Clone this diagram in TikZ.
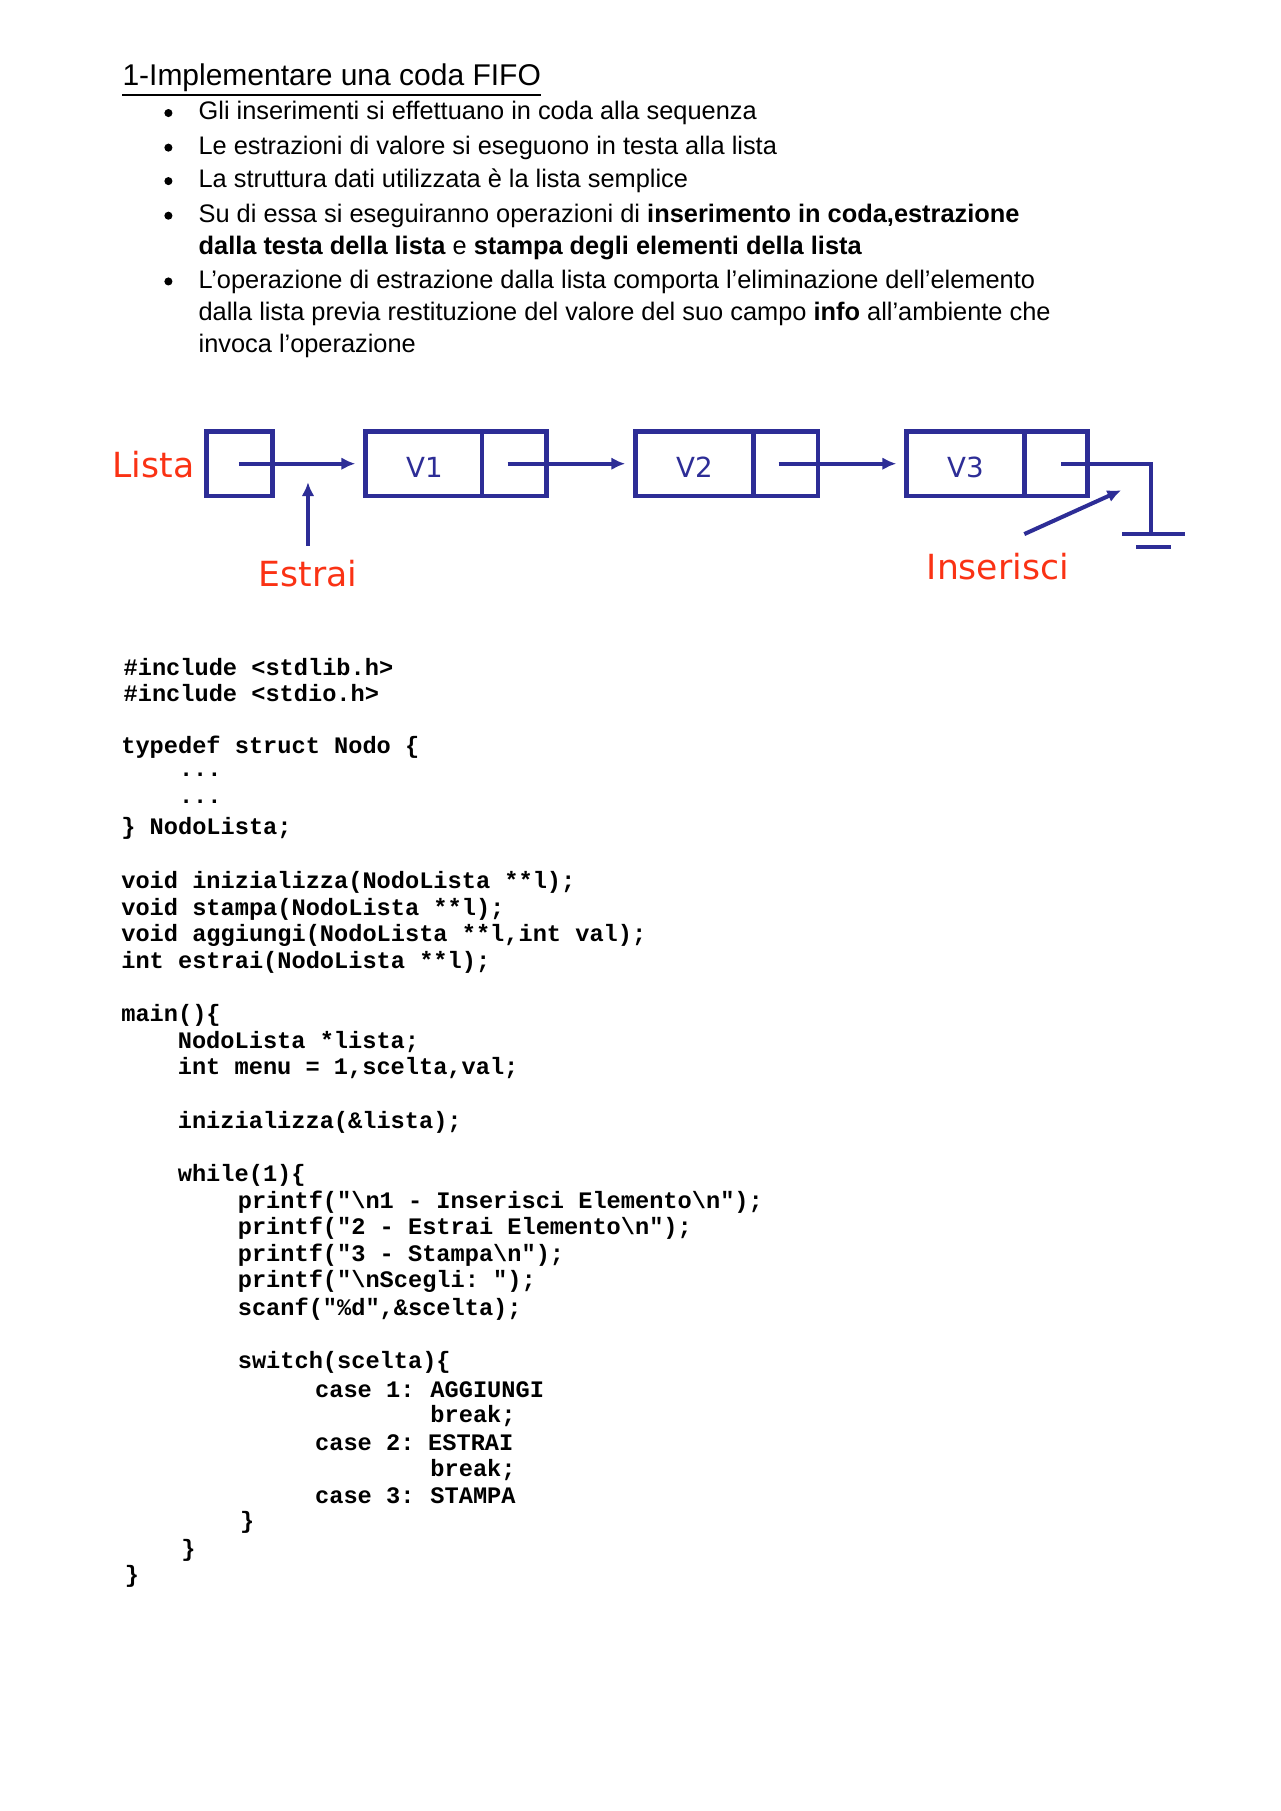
\documentclass[tikz,border=0pt]{standalone}
\usepackage{fontspec}
\setmainfont{Liberation Sans}
\setmonofont{Liberation Mono}
\newfontfamily\verd{DejaVu Sans}
\usetikzlibrary{arrows.meta}
\definecolor{lblue}{RGB}{45,45,150}
\definecolor{lred}{RGB}{250,50,20}
\begin{document}
\begin{tikzpicture}[x=1pt,y=-1pt,
 txt/.style={anchor=west,inner sep=0,font=\fontsize{22}{22}\selectfont},
 code/.style={anchor=west,inner sep=0,font=\fontsize{20.5}{20.5}\selectfont\ttfamily\bfseries},
 bx/.style={draw=lblue,line width=4pt},
 ln/.style={draw=lblue,line width=3.5pt},
 arr/.style={ln,-{Latex[length=12pt,width=11pt]}},
 lab/.style={text=lred,font=\fontsize{30}{30}\selectfont\verd,inner sep=0},
 vl/.style={text=lblue,font=\fontsize{24}{24}\selectfont\verd,inner sep=0},
 dot/.style={fill=black,circle,inner sep=0,minimum size=7pt}]
\useasboundingbox (0,0) rectangle (1110,1570);
\node[txt,font=\fontsize{26}{26}\selectfont] (title) at (106,67) {1-Implementare una coda FIFO};
\draw[line width=1.5pt] ([yshift=-3pt]title.south west)--([yshift=-3pt]title.south east);
\foreach \y in {98,128,157,187,244} \node[dot] at (146,\y) {};
\node[txt] (b1) at (172,98) {Gli inserimenti si effettuano in coda alla sequenza};
\node[txt] (b2) at (172,128) {Le estrazioni di valore si eseguono in testa alla lista};
\node[txt] (b3) at (172,157) {La struttura dati utilizzata è la lista semplice};
\node[txt] (b4) at (172,187) {Su di essa si eseguiranno operazioni di \textbf{inserimento in coda,estrazione}};
\node[txt] (b4b) at (172,215) {\textbf{dalla testa della lista} e \textbf{stampa degli elementi della lista}};
\node[txt] (b5) at (172,244) {L’operazione di estrazione dalla lista comporta l’eliminazione dell’elemento};
\node[txt] (b5b) at (172,272) {dalla lista previa restituzione del valore del suo campo \textbf{info} all’ambiente che};
\node[txt] (b5c) at (172,300) {invoca l’operazione};
% diagram
\draw[bx] (179,374) rectangle (236,430);
\draw[bx] (317,374) rectangle (474,430); \draw[bx] (418,374)--(418,430);
\draw[bx] (551,374) rectangle (709,430); \draw[bx] (653,374)--(653,430);
\draw[bx] (786,374) rectangle (943,430); \draw[bx] (888,374)--(888,430);
\node[vl] (v1) at (368,405) {V1};
\node[vl] (v2) at (602,405) {V2};
\node[vl] (v3) at (837,405) {V3};
\coordinate (p0) at (207,402); \coordinate (q0) at (308,402);
\coordinate (p1) at (440,402); \coordinate (q1) at (542,402);
\coordinate (p2) at (675,402); \coordinate (q2) at (777,402);
\coordinate (p3) at (920,402); \coordinate (c3) at (998,402); \coordinate (g) at (998,463);
\draw[arr] (p0)--(q0); \draw[arr] (p1)--(q1); \draw[arr] (p2)--(q2);
\draw[ln] (p3)--(c3)--(g);
\draw[ln] (973,463)--(1027,463); \draw[ln] (985,474)--(1015,474);
\node[lab] (lista) at (133,403) {Lista};
\node[lab] (estrai) at (267,497) {Estrai};
\node[lab] (ins) at (865,491) {Inserisci};
\coordinate (ea) at (267,473); \coordinate (eb) at (267,418);
\draw[arr] (ea)--(eb);
\coordinate (ia) at (888,463); \coordinate (ib) at (972,425);
\draw[arr] (ia)--(ib);
% code
\node[code] at (107,578) {\#include <stdlib.h>};
\node[code] at (107,601) {\#include <stdio.h>};
\node[code] at (105,648) {typedef struct Nodo \{};
\node[code] at (155,672) {...};
\node[code] at (155,695) {...};
\node[code] at (105,718) {\} NodoLista;};
\node[code] at (105,765) {void inizializza(NodoLista **l);};
\node[code] at (105,788) {void stampa(NodoLista **l);};
\node[code] at (105,811) {void aggiungi(NodoLista **l,int val);};
\node[code] at (105,834) {int estrai(NodoLista **l);};
\node[code] at (105,880) {main()\{};
\node[code] at (154,903) {NodoLista *lista;};
\node[code] at (154,926) {int menu = 1,scelta,val;};
\node[code] at (154,973) {inizializza(\&lista);};
\node[code] at (154,1019) {while(1)\{};
\node[code] at (206,1042) {printf("\textbackslash n1 - Inserisci Elemento\textbackslash n");};
\node[code] at (206,1065) {printf("2 - Estrai Elemento\textbackslash n");};
\node[code] at (206,1088) {printf("3 - Stampa\textbackslash n");};
\node[code] at (206,1111) {printf("\textbackslash nScegli: ");};
\node[code] at (206,1135) {scanf("\%d",\&scelta);};
\node[code] at (206,1181) {switch(scelta)\{};
\node[code] at (273,1205) {case 1:}; \node[code] at (373,1205) {AGGIUNGI};
\node[code] at (373,1228) {break;};
\node[code] at (273,1251) {case 2:}; \node[code] at (371,1251) {ESTRAI};
\node[code] at (373,1274) {break;};
\node[code] at (273,1297) {case 3:}; \node[code] at (373,1297) {STAMPA};
\node[code] at (208,1320) {\}};
\node[code] at (157,1344) {\}};
\node[code] at (108,1367) {\}};
\end{tikzpicture}
\end{document}
